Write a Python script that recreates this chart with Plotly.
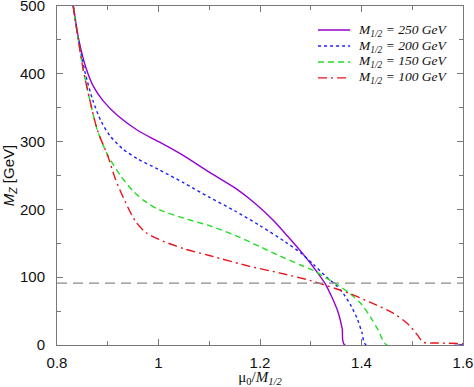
import plotly.graph_objects as go

# ---- data ----
x_250 = [0.832, 0.843, 0.857, 0.872, 0.891, 0.92, 0.96, 1.0, 1.05, 1.1, 1.15, 1.19, 1.226,
         1.255, 1.285, 1.305, 1.328, 1.342, 1.354, 1.362, 1.367, 1.6]
y_250 = [500, 450, 409, 381, 360, 338, 316, 300, 279, 255, 232, 209, 184,
         160, 134, 115, 91, 70, 48, 24, 0, 0]

x_200 = [0.832, 0.845, 0.856, 0.871, 0.887, 0.904, 0.93, 0.96, 1.0, 1.05, 1.1, 1.15, 1.2,
         1.25, 1.28, 1.305, 1.33, 1.35, 1.365, 1.38, 1.392, 1.401, 1.409, 1.6]
y_200 = [500, 440, 400, 360, 330, 309, 289, 274, 259, 239, 218, 198, 176,
         152, 136, 119, 101, 88, 75, 57, 38, 18, 0, 0]

x_150 = [0.832, 0.842, 0.851, 0.865, 0.88, 0.9, 0.925, 0.95, 0.975, 1.0, 1.05, 1.1, 1.15,
         1.2, 1.24, 1.28, 1.305, 1.33, 1.348, 1.377, 1.40, 1.417, 1.433, 1.45, 1.6]
y_150 = [500, 450, 409, 360, 316, 280, 250, 227, 211, 200, 187, 176, 162,
         145, 131, 118, 110, 99, 91, 76, 60, 42, 22, 0, 0]

x_100 = [0.832, 0.842, 0.851, 0.865, 0.88, 0.9, 0.915, 0.934, 0.955, 0.975, 1.0, 1.05, 1.1,
         1.18, 1.24, 1.3, 1.325, 1.35, 1.38, 1.42, 1.46, 1.49, 1.51, 1.522, 1.55, 1.6]
y_100 = [500, 450, 409, 360, 316, 279, 245, 212, 182, 166, 156, 142, 132,
         116, 106, 95, 89, 83, 75, 62, 48, 32, 15, 4, 3, 2]

mz_value = 91.2
x_ticks = [0.8, 1.0, 1.2, 1.4, 1.6]
x_tick_labels = ["0.8", "1", "1.2", "1.4", "1.6"]
y_ticks = [0, 100, 200, 300, 400, 500]
legend_labels = ["250", "200", "150", "100"]

colors = ["#9400d3", "#2020ff", "#22dd22", "#e8141c"]
dashes = ["solid", "dot", "6px,4px", "9px,4px,2px,4px"]
xs_all = [x_250, x_200, x_150, x_100]
ys_all = [y_250, y_200, y_150, y_100]

fig = go.Figure()
for lab, xs, ys, col, dash in zip(legend_labels, xs_all, ys_all, colors, dashes):
    fig.add_trace(go.Scatter(
        x=xs, y=ys, mode="lines", line_shape="spline",
        line=dict(color=col, width=1.4, dash=dash, smoothing=0.8),
        name=f"M1/2 = {lab} GeV", showlegend=False,
    ))

fig.add_trace(go.Scatter(
    x=[0.8, 1.6], y=[mz_value, mz_value], mode="lines",
    line=dict(color="#8a8a8a", width=1.2, dash="10px,6px"), showlegend=False,
))

# manual legend (line samples + labels) in plot-area coordinates
row_y = [0.929, 0.882, 0.835, 0.788]
for lab, col, dash, yy in zip(legend_labels, colors, dashes, row_y):
    fig.add_shape(type="line", xref="paper", yref="paper", x0=0.643, x1=0.722, y0=yy, y1=yy,
                  line=dict(color=col, width=1.4, dash=dash))
    fig.add_annotation(xref="paper", yref="paper", x=0.736, y=yy, xanchor="left", yanchor="middle",
                       showarrow=False,
                       text=f"<i>M<sub>1/2</sub> = {lab} GeV</i>",
                       font=dict(family="Liberation Serif, Times New Roman", size=13.5, color="#111"))

axis_common = dict(
    showgrid=False, zeroline=False, showline=True, linecolor="#777", linewidth=1,
    mirror="allticks", ticks="inside", ticklen=6, tickcolor="#777", automargin=False,
    ticklabeloverflow="allow",
    tickfont=dict(family="Liberation Sans, Arial", size=15, color="#111"),
)

fig.update_xaxes(
    range=[0.8, 1.6], tickvals=x_ticks, ticktext=x_tick_labels, ticklabelstandoff=4,
    minor=dict(ticks="inside", ticklen=4, dtick=0.1, tickcolor="#777"),
    title=dict(text="μ<sub>0</sub>/<i>M<sub>1/2</sub></i>",
               font=dict(family="Liberation Serif, Times New Roman", size=15, color="#111"),
               standoff=9),
    **axis_common,
)
fig.update_yaxes(
    range=[0, 500], tickvals=y_ticks, ticklabelstandoff=8,
    minor=dict(ticks="inside", ticklen=4, dtick=50, tickcolor="#777"),
    title=dict(text="<i>M<sub>Z</sub></i> [GeV]",
               font=dict(family="Liberation Sans, Arial", size=15, color="#111"),
               standoff=6),
    **axis_common,
)

fig.update_layout(
    width=474, height=387,
    margin=dict(l=57, r=11, t=6, b=42),
    plot_bgcolor="white", paper_bgcolor="white",
    showlegend=False,
)

fig.write_html("out.html", config={"displayModeBar": False},
               post_script="document.body.style.margin='0px';document.body.style.overflow='hidden';")
